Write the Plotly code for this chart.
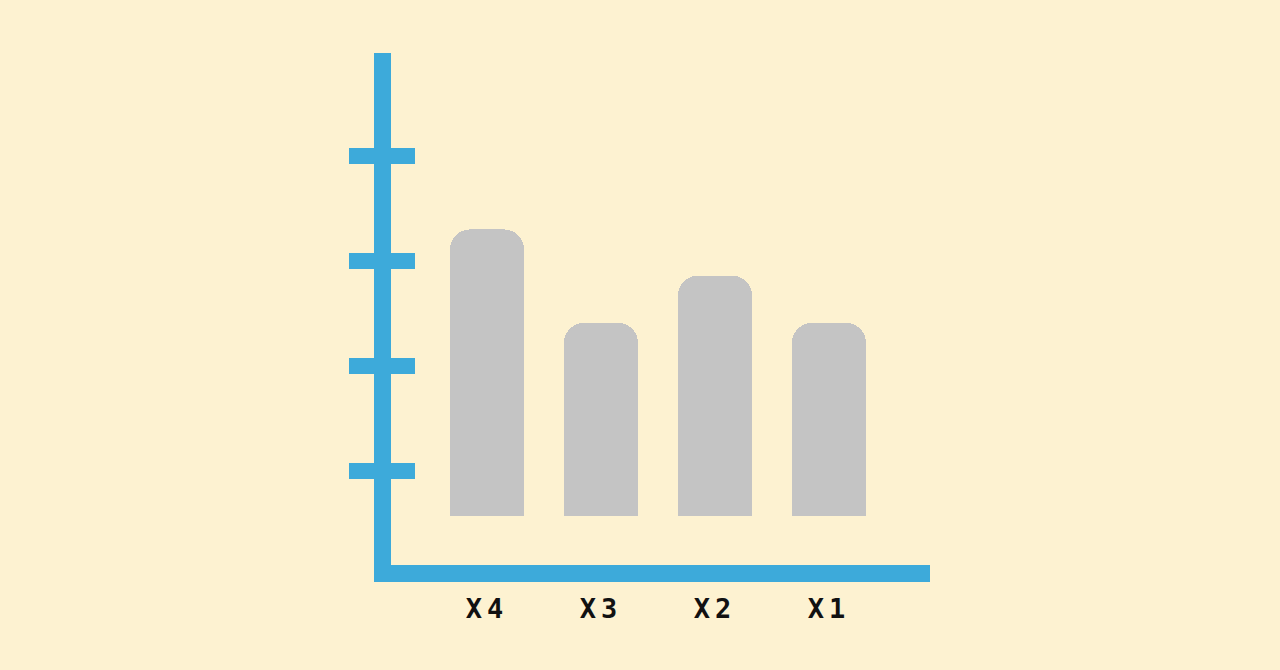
import plotly.graph_objects as go

# categories left to right, bar tops in y-tick units (ticks at 1..4)
categories = ["X4", "X3", "X2", "X1"]
bar_tops = [3.30, 2.41, 2.86, 2.41]
bar_base = 0.57
tick_values = [1, 2, 3, 4]

bg = "#FDF2D1"
blue = "#3DAADA"
grey = "#C4C4C4"

fig = go.Figure()
# transparent spacer so the grey bars float above the x axis
fig.add_trace(go.Bar(
    x=categories,
    y=[bar_base] * len(categories),
    width=0.65,
    marker=dict(color="rgba(0,0,0,0)", line_width=0),
    hoverinfo="skip",
))
fig.add_trace(go.Bar(
    x=categories,
    y=[t - bar_base for t in bar_tops],
    width=0.65,
    marker=dict(color=grey, line_width=0),
    hoverinfo="skip",
))
# empty trace so the second (inside ticks) y axis gets drawn
fig.add_trace(go.Scatter(x=[], y=[], yaxis="y2", hoverinfo="skip"))

fig.update_layout(
    width=1280, height=670,
    paper_bgcolor=bg, plot_bgcolor=bg,
    margin=dict(l=391, r=350, t=53, b=105),
    showlegend=False,
    barmode="stack",
    barcornerradius=20,
    xaxis=dict(
        range=[-0.842, 3.886],
        showline=True, linecolor=blue, linewidth=17,
        showgrid=False, zeroline=False, ticks="",
        tickfont=dict(family="DejaVu Sans Mono", size=27, color="#111111", weight="bold"),
        ticklabelstandoff=4,
    ),
    yaxis=dict(
        range=[0.105, 4.98],
        showline=True, linecolor=blue, linewidth=17,
        showgrid=False, zeroline=False,
        tickvals=tick_values, ticks="outside", ticklen=25, tickwidth=16, tickcolor=blue,
        showticklabels=False,
    ),
    yaxis2=dict(
        matches="y", overlaying="y", anchor="x", side="left",
        showline=False, showgrid=False, zeroline=False,
        tickvals=tick_values, ticks="inside", ticklen=24, tickwidth=16, tickcolor=blue,
        showticklabels=False,
    ),
)

page_js = """
document.body.style.margin = '0';
document.body.style.background = '%s';
var st = document.createElement('style');
st.textContent = '.xtick text { letter-spacing: 5px; }';
document.head.appendChild(st);
""" % bg

fig.write_html("out.html", post_script=page_js, config={"displayModeBar": False})
